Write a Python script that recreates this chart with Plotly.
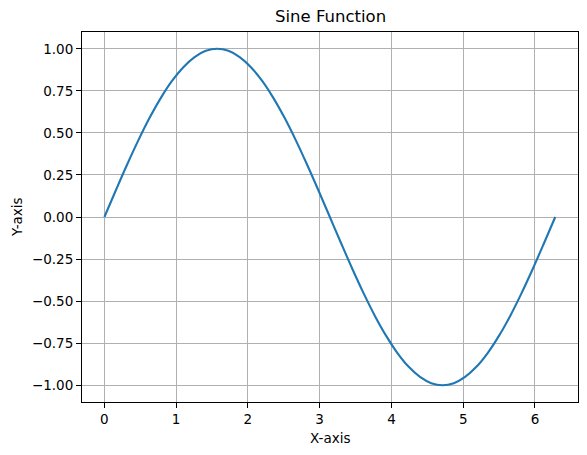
import plotly.graph_objects as go

# values
x_vals = [0.000, 0.157, 0.314, 0.471, 0.628, 0.785, 0.942, 1.100, 1.257, 1.414,
          1.571, 1.728, 1.885, 2.042, 2.199, 2.356, 2.513, 2.670, 2.827, 2.985,
          3.142, 3.299, 3.456, 3.613, 3.770, 3.927, 4.084, 4.241, 4.398, 4.555,
          4.712, 4.869, 5.027, 5.184, 5.341, 5.498, 5.655, 5.812, 5.969, 6.126,
          6.283]
y_vals = [0.000, 0.156, 0.309, 0.454, 0.588, 0.707, 0.809, 0.891, 0.951, 0.988,
          1.000, 0.988, 0.951, 0.891, 0.809, 0.707, 0.588, 0.454, 0.309, 0.156,
          0.000, -0.156, -0.309, -0.454, -0.588, -0.707, -0.809, -0.891, -0.951, -0.988,
          -1.000, -0.988, -0.951, -0.891, -0.809, -0.707, -0.588, -0.454, -0.309, -0.156,
          0.000]
x_ticks = [0, 1, 2, 3, 4, 5, 6]
y_ticks = [-1.00, -0.75, -0.50, -0.25, 0.00, 0.25, 0.50, 0.75, 1.00]

FONT = "DejaVu Sans"

fig = go.Figure()
fig.add_trace(go.Scatter(x=x_vals, y=y_vals, mode="lines",
                         line=dict(color="#1f77b4", width=2.1, shape="spline"),
                         showlegend=False, hoverinfo="skip"))

axis_common = dict(
    showline=True, linecolor="black", linewidth=1.1, mirror=True,
    showgrid=True, gridcolor="#b0b0b0", gridwidth=1.1,
    ticks="outside", ticklen=5, tickwidth=1.1, tickcolor="black",
    zeroline=False,
    tickfont=dict(family=FONT, size=13.5, color="black"),
)

fig.update_xaxes(range=[-0.312, 6.60], tickvals=x_ticks,
                 ticktext=[str(v) for v in x_ticks], **axis_common)
fig.update_yaxes(range=[-1.1, 1.1], tickvals=y_ticks, tickformat=".2f",
                 **axis_common)

fig.update_layout(
    width=587, height=455,
    margin=dict(l=82, r=9, t=32, b=53),
    paper_bgcolor="white", plot_bgcolor="white",
    font=dict(family=FONT, color="black"),
    hovermode=False,
    annotations=[
        dict(text="Sine Function", xref="paper", yref="paper", x=0.5, y=1,
             xanchor="center", yanchor="bottom", yshift=4, showarrow=False,
             font=dict(family=FONT, size=16.5, color="black")),
        dict(text="X-axis", xref="paper", yref="paper", x=0.5, y=0,
             xanchor="center", yanchor="top", yshift=-26, showarrow=False,
             font=dict(family=FONT, size=13.5, color="black")),
        dict(text="Y-axis", xref="paper", yref="paper", x=0, y=0.5,
             xanchor="center", yanchor="middle", xshift=-65, textangle=-90,
             showarrow=False, font=dict(family=FONT, size=13.5, color="black")),
    ],
)

fig.write_html("out.html", config={"displayModeBar": False},
               post_script="document.body.style.margin='0';document.body.style.overflow='hidden';")
